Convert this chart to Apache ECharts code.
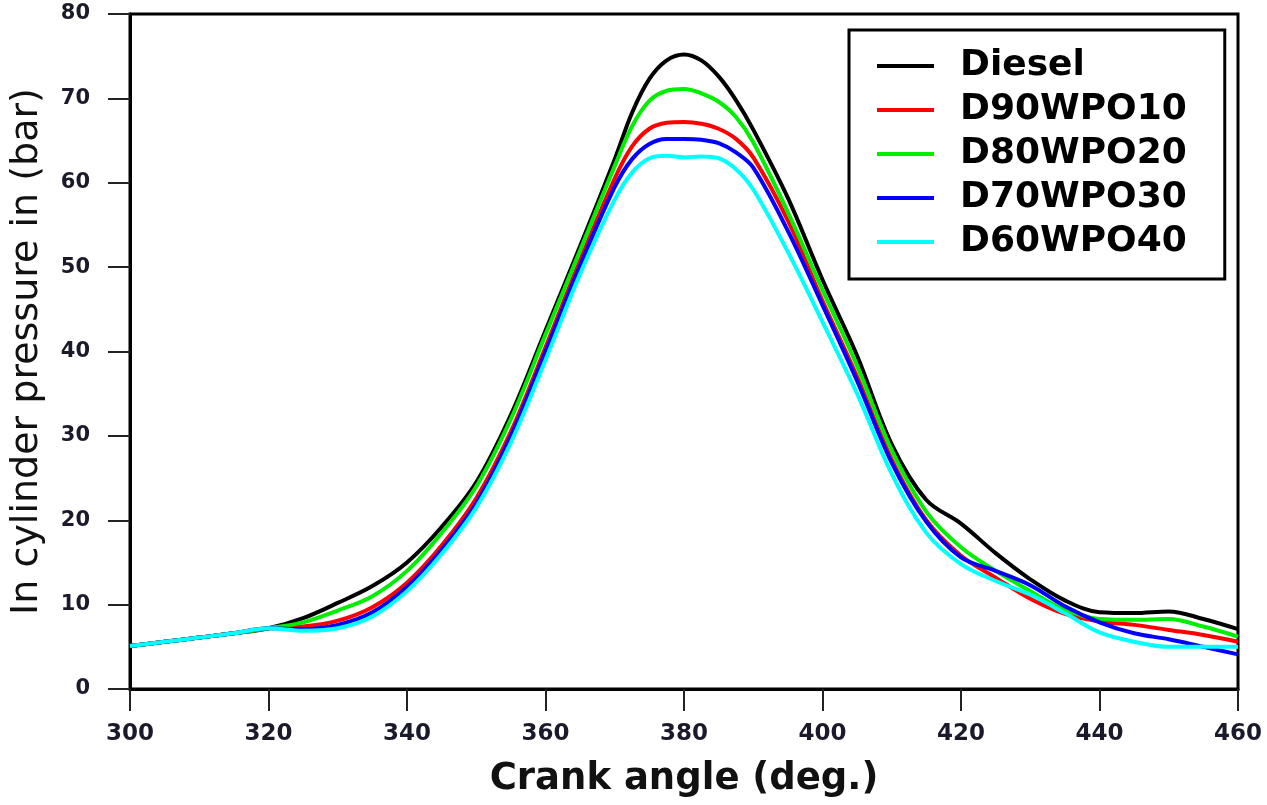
<!DOCTYPE html>
<html>
<head>
<meta charset="utf-8">
<script src="https://cdn.jsdelivr.net/npm/echarts@6/dist/echarts.min.js"></script>
<style>
html,body{margin:0;padding:0;background:#fff;}
#chart{width:1267px;height:805px;}
</style>
</head>
<body>
<div id="chart"></div>
<script>
const angles = [300,305,310,315,320,325,330,335,340,345,350,355,360,365,370,372.5,375,377.5,380,382.5,385,387.5,390,395,400,405,410,415,420,425,430,435,440,445,450,455,460];
const diesel   = [5.1,5.6,6.1,6.6,7.2,8.4,10.2,12.2,15.0,19.2,24.5,32.5,42.5,52.5,62.8,68.3,72.3,74.5,75.2,74.5,72.6,69.8,66.3,58.2,48.5,39.5,29.0,22.4,19.6,16.1,13.0,10.5,9.1,9.0,9.2,8.3,7.1];
const d90wpo10 = [5.1,5.6,6.1,6.6,7.2,7.4,8.1,9.7,12.6,17.0,22.6,30.5,40.5,50.8,60.5,64.3,66.4,67.1,67.2,67.0,66.4,65.2,63.0,55.5,46.0,37.0,27.2,20.0,15.8,13.2,10.7,8.9,8.0,7.6,7.0,6.4,5.6];
const d80wpo20 = [5.1,5.6,6.1,6.6,7.2,7.9,9.3,11.0,14.0,18.5,24.0,32.0,42.0,52.0,62.0,66.7,69.7,70.9,71.1,70.6,69.6,67.8,64.8,56.5,47.3,38.3,28.3,21.0,16.8,14.0,11.6,9.4,8.3,8.2,8.3,7.4,6.2];
const d70wpo30 = [5.1,5.6,6.1,6.6,7.2,7.1,7.6,9.1,12.1,16.5,22.0,30.0,40.0,50.2,59.5,62.8,64.6,65.2,65.2,65.1,64.7,63.6,61.8,54.3,45.5,36.5,26.8,19.8,15.6,14.0,12.3,9.8,7.9,6.6,5.9,5.0,4.1];
const d60wpo40 = [5.1,5.6,6.1,6.6,7.2,6.9,7.2,8.6,11.6,16.0,21.5,29.2,39.0,49.2,58.0,61.2,62.9,63.2,63.0,63.1,62.9,61.6,59.2,51.8,43.5,35.0,25.5,18.5,14.8,12.8,11.2,9.0,6.7,5.6,5.0,5.0,5.0];

const seriesNames = ['Diesel','D90WPO10','D80WPO20','D70WPO30','D60WPO40'];
const seriesData = [diesel, d90wpo10, d80wpo20, d70wpo30, d60wpo40];
const seriesColors = ['#000000','#ff0000','#00ee00','#0000ff','#00ffff'];

const chart = echarts.init(document.getElementById('chart'), null, {renderer:'canvas'});
const option = {
  animation: false,
  backgroundColor: '#ffffff',
  grid: {left: 128, right: 29, top: 14, bottom: 116, show: true, borderColor: '#000', borderWidth: 3, backgroundColor: 'transparent'},
  legend: {
    orient: 'vertical',
    left: 849, top: 30,
    padding: [18, 38, 19, 28],
    borderColor: '#000', borderWidth: 3,
    backgroundColor: '#fff',
    icon: 'rect',
    itemWidth: 57, itemHeight: 4, itemGap: 8,
    textStyle: {fontFamily: 'DejaVu Sans', fontWeight: 'bold', fontSize: 36, color: '#000', lineHeight: 34, padding: [0,0,0,21]},
    data: seriesNames
  },
  xAxis: {
    type: 'value', min: 300, max: 460, interval: 20,
    name: 'Crank angle (deg.)', nameLocation: 'middle', nameGap: 72,
    nameTextStyle: {fontFamily: 'DejaVu Sans', fontWeight: 'bold', fontSize: 37, color: '#111'},
    axisLine: {show: true, lineStyle: {color: '#000', width: 3}},
    axisTick: {show: true, inside: false, length: 22, lineStyle: {color: '#222', width: 2}},
    axisLabel: {margin: 34, fontFamily: 'DejaVu Sans', fontWeight: 'bold', fontSize: 23, color: '#1a1a2a'},
    splitLine: {show: false}
  },
  yAxis: {
    type: 'value', min: 0, max: 80, interval: 10,
    name: 'In cylinder pressure in (bar)', nameLocation: 'middle', nameGap: 84,
    nameTextStyle: {fontFamily: 'DejaVu Sans', fontWeight: 'normal', fontSize: 38, color: '#111'},
    axisLine: {show: true, lineStyle: {color: '#000', width: 3}},
    axisTick: {show: true, inside: false, length: 22, lineStyle: {color: '#222', width: 2}},
    axisLabel: {margin: 40, fontFamily: 'DejaVu Sans', fontWeight: 'bold', fontSize: 21, color: '#1a1a2a'},
    splitLine: {show: false}
  },
  series: seriesNames.map((n, i) => ({
    name: n, type: 'line', smooth: 0.35, symbol: 'none', showSymbol: false,
    color: seriesColors[i],
    lineStyle: {width: 4, color: seriesColors[i]},
    data: angles.map((a, j) => [a, seriesData[i][j]]),
    z: 2 + i
  }))
};
chart.setOption(option);
</script>
</body>
</html>
